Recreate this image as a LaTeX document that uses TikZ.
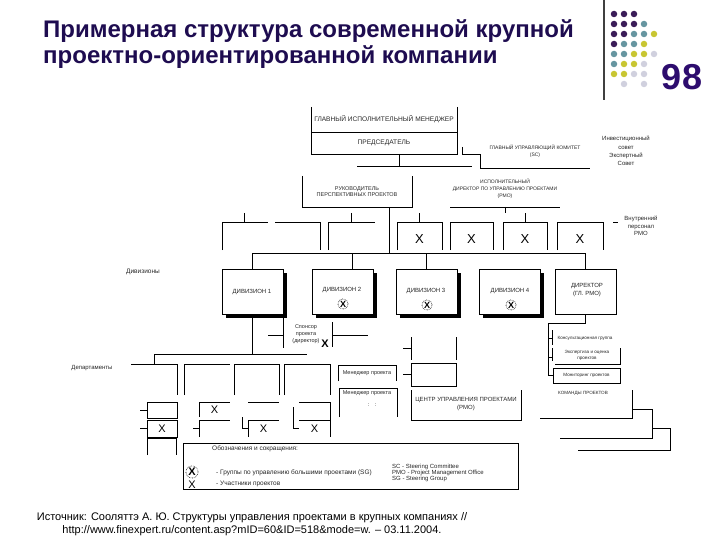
\documentclass[tikz,border=0pt]{standalone}
\usepackage{fontspec}
\setmainfont{Liberation Sans}
\definecolor{ttlc}{RGB}{30,12,80}
\definecolor{numc}{RGB}{45,12,110}
\definecolor{dpur}{RGB}{58,28,88}
\definecolor{dteal}{RGB}{102,150,160}
\definecolor{dyel}{RGB}{200,198,50}
\definecolor{dgray}{RGB}{208,208,222}
\tikzset{
  ln/.style={line width=0.8pt, black},
  frame/.style={inner sep=0pt, outer sep=0pt},
  boxd/.style={draw, line width=0.8pt, inner sep=0pt, outer sep=0pt},
  ttl/.style={font=\fontsize{24}{25}\selectfont\bfseries, text=ttlc, inner sep=0pt},
  lab/.style={align=center, inner sep=0pt, text=black!85},
  f66/.style={lab, font=\fontsize{6.6}{8}\selectfont},
  f6/.style={lab, font=\fontsize{6}{7.2}\selectfont},
  f55/.style={lab, font=\fontsize{5.5}{6.7}\selectfont},
  f5/.style={lab, font=\fontsize{5}{7}\selectfont},
  f45/.style={lab, font=\fontsize{4.6}{6}\selectfont},
  bigx/.style={inner sep=0pt, font=\fontsize{13}{13}\selectfont},
  midx/.style={inner sep=0pt, font=\fontsize{11}{11}\selectfont},
  cx/.style={circle, draw, densely dotted, line width=0.6pt, inner sep=0.6pt, font=\fontsize{9}{9}\selectfont\bfseries},
  dot/.style={circle, inner sep=0pt, minimum size=6.5pt},
  divbox/.style={draw, fill=white, line width=0.8pt, inner sep=0pt, minimum width=61pt, minimum height=45pt,
     preaction={fill=black, transform canvas={xshift=4pt, yshift=-4pt}}},
}
\begin{document}
\begin{tikzpicture}[x=1pt,y=-1pt]
\useasboundingbox (0,0) rectangle (720,540);

% ---------- slide decoration ----------
\draw[line width=1.2pt, black!75] (604,0) -- (604,100);
\foreach \i/\j/\c [count=\n] in {0/0/dpur,1/0/dpur,2/0/dpur,
  0/1/dpur,1/1/dpur,2/1/dpur,3/1/dteal,
  0/2/dpur,1/2/dpur,2/2/dteal,3/2/dteal,4/2/dyel,
  0/3/dpur,1/3/dteal,2/3/dteal,3/3/dyel,
  0/4/dteal,1/4/dteal,2/4/dyel,3/4/dyel,4/4/dgray,
  0/5/dteal,1/5/dyel,2/5/dyel,3/5/dgray,
  0/6/dyel,1/6/dyel,2/6/dgray,3/6/dgray,
  1/7/dgray,3/7/dgray}
  \node[dot, fill=\c] (dot\n) at ({614+10*\i},{14+10*\j}) {};
\node[font=\fontsize{36}{36}\selectfont\bfseries, text=numc, inner sep=0pt] (pnum) at (682,77) {98};

\node[ttl, anchor=base west] (t1) at (43,38) {Примерная структура современной крупной};
\node[ttl, anchor=base west] (t2) at (43,63.5) {проектно-ориентированной компании};

% ---------- top ----------
\node[frame, f66, minimum width=146pt, minimum height=25pt] (gim) at (384,119.5) {ГЛАВНЫЙ ИСПОЛНИТЕЛЬНЫЙ МЕНЕДЖЕР};
\draw[ln] (gim.north west) -- (gim.south west) (gim.north east) -- (gim.south east);
\node[boxd, f66, minimum width=146pt, minimum height=22pt] (pred) at (384,143) {ПРЕДСЕДАТЕЛЬ};
\coordinate (cj) at (399,166);
\draw[ln] (pred.south -| cj) -- (cj);
\draw[ln] (357,166) -- (472,166);

\node[frame, f5, minimum width=110pt, minimum height=33pt] (sc) at (535,151.5) {ГЛАВНЫЙ УПРАВЛЯЮЩИЙ КОМИТЕТ\\(SC)};
\draw[ln] (462,147) -- (462,154) -- (480,154) -- (sc.south west) -- (sc.south east);
\node[lab, font=\fontsize{6}{8.3}\selectfont] (inv) at (626,151) {Инвестиционный\\совет\\Экспертный\\Совет};

\node[frame, f55, minimum width=110pt, minimum height=31pt] (ruk) at (357,191.5) {РУКОВОДИТЕЛЬ\\ПЕРСПЕКТИВНЫХ ПРОЕКТОВ};
\draw[ln] (ruk.north west) -- (ruk.south west) -- (ruk.south east) -- (ruk.north east);

\node[frame, f5, minimum width=110pt, minimum height=37pt] (pmod) at (505,188.5) {ИСПОЛНИТЕЛЬНЫЙ\\ДИРЕКТОР ПО УПРАВЛЕНИЮ ПРОЕКТАМИ\\(PMO)};
\draw[ln] (pmod.south west) -- (pmod.south east);
\draw[ln] (pmod.south) -- ++(0,6);

% left upper open boxes
\draw[ln] (222,250) -- (222,222) -- (268,222) (275,222) -- (320,222) -- (320,250);
\draw[ln] (244,213) -- (244,222);
\draw[ln] (328,250) -- (328,222) -- (375,222);
\draw[ln] (351,213) -- (351,222);

% X boxes
\foreach \n/\xc/\w in {1/419.5/45, 2/471.5/43, 3/525/44, 4/580/46}{
  \node[frame, minimum width=\w, minimum height=28pt] (xb\n) at (\xc,236) {};
  \node[bigx] (xl\n) at (\xc,239) {X};
  \draw[ln] (xb\n.south west) -- (xb\n.north west) -- (xb\n.north east) -- (xb\n.south east);
}
\draw[ln] (xb1.north) -- ++(0,-9);
\draw[ln] (xb3.north) -- ++(0,-9);
\node[f6] (intp) at (641,226) {Внутренний\\персонал\\PMO};
\draw[ln] (613,222) -- (618,222);

% ---------- divisions ----------
\coordinate (tr) at (389,253);
\draw[ln] (ruk.south -| tr) -- (tr);
\node[divbox] (div1) at (252.5,291.5) {};
\node[divbox] (div2) at (342.5,291.5) {};
\node[divbox] (div3) at (426.5,291.5) {};
\node[divbox] (div4) at (509.5,291.5) {};
\node[boxd, fill=white, minimum width=61pt, minimum height=45pt] (dir) at (585.5,291.5) {};
\draw[ln] (div1.north |- tr) -- (dir.north |- tr);
\draw[ln] (div1.north |- tr) -- (div1.north);
\draw[ln] ([xshift=10pt]div2.north |- tr) -- ([xshift=10pt]div2.north);
\draw[ln] (div3.north |- tr) -- (div3.north);
\draw[ln] (dir.north |- tr) -- (dir.north);

\node[f6] (div1t) at (252,292) {ДИВИЗИОН 1};
\node[f6] (div2t) at (342,290) {ДИВИЗИОН 2};
\node[f6] (div3t) at (426,291) {ДИВИЗИОН 3};
\node[f6] (div4t) at (510,291) {ДИВИЗИОН 4};
\node[cx] (div2x) at (343,304) {X};
\node[cx] (div3x) at (427,305) {X};
\node[cx] (div4x) at (511,305) {X};
\node[f6] (dirt) at (587,290) {ДИРЕКТОР\\(ГЛ. PMO)};
\node[lab, font=\fontsize{6.5}{7}\selectfont] (divl) at (143,272) {Дивизионы};

% ---------- departments ----------
\coordinate (dj) at (div1.south |- 0,354);
\draw[ln] (div1.south) -- (dj);
\draw[ln] (154,354) -- (307,354);
\draw[ln] (154,354) -- (154,364);
\node[f6] (dept) at (92,368) {Департаменты};
\draw[ln] (131,364) -- (177,364) -- (177,395);
\draw[ln] (184,395) -- (184,364) -- (230,364);
\draw[ln] (234,395) -- (234,364) -- (279,364) -- (279,395);
\draw[ln] (284,395) -- (284,364) -- (330,364) -- (330,395);

% column 1
\node[boxd, minimum width=30pt, minimum height=16pt] (a1) at (162,410) {};
\node[boxd, midx, minimum width=30pt, minimum height=17pt] (a2) at (162,428.5) {X};
\node[frame, minimum width=29pt, minimum height=17pt] (a3) at (161.5,446.5) {};
\draw[ln] (a3.south west) -- (a3.north west) -- (a3.north east) -- (a3.south east);
\draw[ln] (140,410) -- (a1.west);
\draw[ln] (140,428.5) -- (a2.west);
% column 2
\node[frame, midx, minimum width=31pt, minimum height=15pt] (b1) at (214.5,409.5) {X};
\draw[ln] (b1.south west) -- (b1.north west) -- (b1.north east);
\node[frame, minimum width=31pt, minimum height=17pt] (b2) at (214.5,428.5) {};
\draw[ln] (b2.south west) -- (b2.north west) -- (b2.north east);
\draw[ln] (193,428.5) -- (b2.west);
% column 3
\draw[ln] (248,402) -- (279,402);
\node[frame, midx, minimum width=31pt, minimum height=17pt] (c3b) at (263.5,428.5) {X};
\draw[ln] (c3b.south west) -- (c3b.north west) -- (c3b.north east);
\draw[ln] (242,417) -- (242,428.5) -- (c3b.west);
% column 4
\draw[ln] (299,402) -- (330,402) -- (330,437);
\node[frame, midx, minimum width=31pt, minimum height=17pt] (d4b) at (314.5,428.5) {X};
\draw[ln] (d4b.north west) -- (d4b.north east);
\draw[ln] (293,407) -- (293,428.5) -- (d4b.west);

% ---------- sponsor ----------
\draw[ln] (div1.south east) -- ++(0,34);
\draw[ln] (268,335) -- (div1.south east |- 0,335);
\node[f55] (spon) at (306,334) {Спонсор\\проекта\\(директор)};
\node[bigx, font=\fontsize{11}{11}\selectfont\bfseries] (sx) at (325,344) {X};
\draw[ln] (332,322) -- (332,347);
\draw[ln] (332,335) -- (368,335);

\draw[ln] (411,337) -- (411,360);
\draw[ln] (456,337) -- (456,360);
\draw[ln] (403,348) -- (411,348);
\node[boxd, minimum width=45pt, minimum height=23pt] (eb) at (433.5,374.5) {};
\draw[ln] (403,374.5) -- (eb.west);

% ---------- project managers ----------
\node[frame, f55, minimum width=58pt, minimum height=16pt] (m1) at (367,373) {Менеджер проекта};
\draw[ln] (m1.south west) -- (m1.north west) -- (m1.north east) -- (m1.south east);
\node[frame, minimum width=58pt, minimum height=29pt] (m2) at (368,402.5) {};
\draw[ln] (m2.south west) -- (m2.north west) -- (m2.north east) -- (m2.south east);
\node[f55] (m2t) at (367,393) {Менеджер проекта};
\node[f55] (m2d) at (372,405) {:\hspace{5pt}:};

\node[frame, minimum width=110pt, minimum height=30pt] (pmoc) at (466,405) {};
\draw[ln] (pmoc.north west) -- (pmoc.south west) -- (pmoc.south east) -- (pmoc.north east);
\node[f6] (pmoct) at (466,404) {ЦЕНТР УПРАВЛЕНИЯ ПРОЕКТАМИ\\(PMO)};

% ---------- right branch ----------
\node[boxd, f45, minimum width=67pt, minimum height=15pt] (c3) at (586.5,375.5) {Мониторинг проектов};
\draw[ln] (dir.south) -- (585.5,323) -- (548,323) -- (548,375.5) -- (c3.west);
\node[f45] (c1) at (585,338) {Консультационная группа};
\draw[ln] (548,338) -- (552,338);
\draw[ln] (552,330) -- (552,345);
\node[frame, minimum width=65pt, minimum height=16pt] (c2) at (587.5,356) {};
\draw[ln] (c2.north east) -- (c2.south east) -- (c2.south west);
\node[f45] (c2t) at (587,355.5) {Экспертиза и оценка\\проектов};
\draw[ln] (552,348) -- (552,361);
\draw[ln] (548,357) -- (552,357);

\node[frame, minimum width=92pt, minimum height=28pt] (tm1) at (586,404) {};
\node[frame, minimum width=92pt, minimum height=29pt] (tm2) at (606,423.5) {};
\node[frame, minimum width=92pt, minimum height=22pt] (tm3) at (624,439) {};
\draw[ln] (tm1.north east) -- (tm1.south east) -- (tm1.south west);
\draw[ln] (tm1.east |- tm2.north) -- (tm2.north east) -- (tm2.south east) -- (tm2.south west);
\draw[ln] (tm2.east |- tm3.north) -- (tm3.north east) -- (tm3.south east) -- (tm3.south west);
\node[f45] (tmt) at (583,393) {КОМАНДЫ ПРОЕКТОВ};

% ---------- legend ----------
\node[boxd, minimum width=335pt, minimum height=46pt] (legend) at (350.5,466) {};
\node[lab, font=\fontsize{6.5}{7}\selectfont, anchor=west] (legh) at (212,449) {Обозначения и сокращения:};
\node[cx, font=\fontsize{11}{11}\selectfont\bfseries] (legcx) at (192,472) {X};
\node[lab, font=\fontsize{6.5}{7}\selectfont, anchor=west] (leg1) at (216,473) {- Группы по управлению большими проектами (SG)};
\node[midx] (legx) at (192,485) {X};
\node[lab, font=\fontsize{6.5}{7}\selectfont, anchor=west] (leg2) at (216,484) {- Участники проектов};
\node[lab, font=\fontsize{6}{6}\selectfont, align=left, anchor=west] (legr) at (392,472.5) {SC - Steering Committee\\PMO - Project Management Office\\SG - Steering Group};

% ---------- source ----------
\node[lab, text=black, font=\fontsize{11}{13}\selectfont] (src) at (252,524.5) {Источник: Сооляттэ А. Ю. Структуры управления проектами в крупных компаниях //\\http://www.finexpert.ru/content.asp?mID=60\&ID=518\&mode=w. – 03.11.2004.};
\end{tikzpicture}
\end{document}
